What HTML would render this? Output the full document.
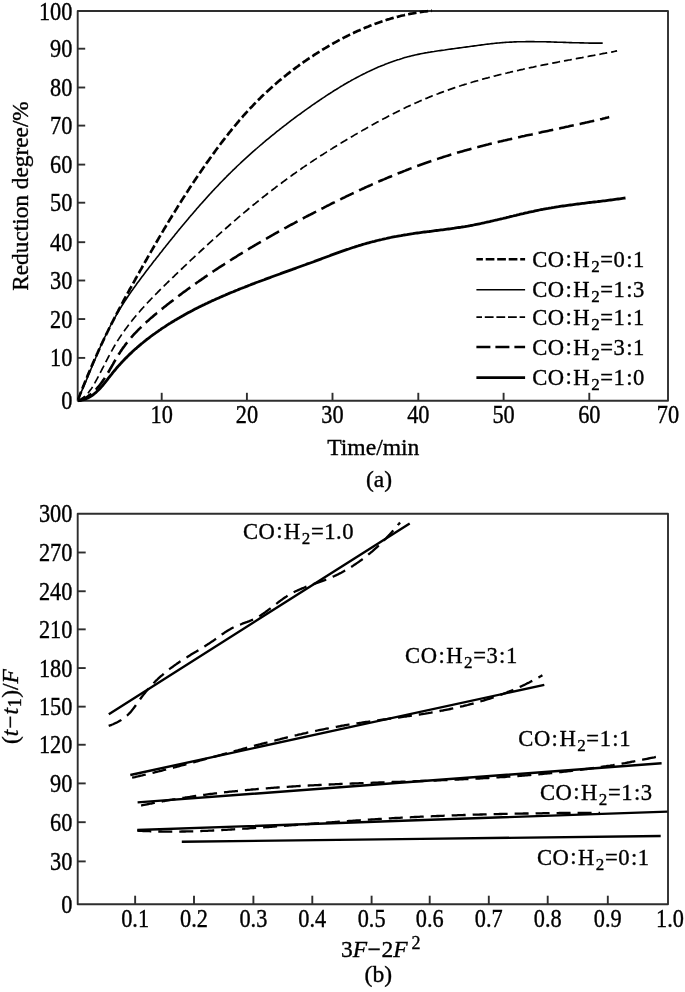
<!DOCTYPE html>
<html><head><meta charset="utf-8"><style>
html,body{margin:0;padding:0;background:#fff;}
svg{display:block;}
text{font-family:'Liberation Serif','Times New Roman',serif;fill:#000;stroke:#000;stroke-width:0.35px;}
.ax{fill:none;stroke:#2e2e2e;stroke-width:1.9;stroke-linejoin:round;}
.c{fill:none;stroke:#000;stroke-linecap:butt;stroke-linejoin:round;}
</style></head><body>
<svg width="685" height="992" viewBox="0 0 685 992">
<rect width="685" height="992" fill="#fff"/>
<path d="M77.7,11H668V400.8H77.7Z" class="ax"/>
<path d="M77.7,48.7h7.5" class="ax"/>
<path d="M77.7,87.5h7.5" class="ax"/>
<path d="M77.7,125.6h7.5" class="ax"/>
<path d="M77.7,164.6h7.5" class="ax"/>
<path d="M77.7,202.7h7.5" class="ax"/>
<path d="M77.7,242.2h7.5" class="ax"/>
<path d="M77.7,280.5h7.5" class="ax"/>
<path d="M77.7,319.05h7.5" class="ax"/>
<path d="M77.7,357.9h7.5" class="ax"/>
<path d="M161.7,400.8v-8" class="ax"/>
<path d="M246.9,400.8v-8" class="ax"/>
<path d="M332.5,400.8v-8" class="ax"/>
<path d="M418.3,400.8v-8" class="ax"/>
<path d="M503.6,400.8v-8" class="ax"/>
<path d="M589.3,400.8v-8" class="ax"/>
<text transform="translate(72.4,57.2) scale(0.95,1.08)" font-size="23.5" text-anchor="end">90</text>
<text transform="translate(72.4,96.0) scale(0.95,1.08)" font-size="23.5" text-anchor="end">80</text>
<text transform="translate(72.4,134.1) scale(0.95,1.08)" font-size="23.5" text-anchor="end">70</text>
<text transform="translate(72.4,173.1) scale(0.95,1.08)" font-size="23.5" text-anchor="end">60</text>
<text transform="translate(72.4,211.2) scale(0.95,1.08)" font-size="23.5" text-anchor="end">50</text>
<text transform="translate(72.4,250.7) scale(0.95,1.08)" font-size="23.5" text-anchor="end">40</text>
<text transform="translate(72.4,289.0) scale(0.95,1.08)" font-size="23.5" text-anchor="end">30</text>
<text transform="translate(72.4,327.6) scale(0.95,1.08)" font-size="23.5" text-anchor="end">20</text>
<text transform="translate(72.4,366.4) scale(0.95,1.08)" font-size="23.5" text-anchor="end">10</text>
<text transform="translate(72.4,19.5) scale(0.95,1.08)" font-size="23.5" text-anchor="end">100</text>
<text transform="translate(72.4,409.3) scale(0.95,1.08)" font-size="23.5" text-anchor="end">0</text>
<text transform="translate(161.7,423.3) scale(0.95,1.08)" font-size="23.5" text-anchor="middle">10</text>
<text transform="translate(246.9,423.3) scale(0.95,1.08)" font-size="23.5" text-anchor="middle">20</text>
<text transform="translate(332.5,423.3) scale(0.95,1.08)" font-size="23.5" text-anchor="middle">30</text>
<text transform="translate(418.3,423.3) scale(0.95,1.08)" font-size="23.5" text-anchor="middle">40</text>
<text transform="translate(503.6,423.3) scale(0.95,1.08)" font-size="23.5" text-anchor="middle">50</text>
<text transform="translate(589.3,423.3) scale(0.95,1.08)" font-size="23.5" text-anchor="middle">60</text>
<text transform="translate(668,423.3) scale(0.95,1.08)" font-size="23.5" text-anchor="middle">70</text>
<text x="373.3" y="454.7" font-size="23.6" text-anchor="middle" >Time/min</text>
<text x="379" y="486.8" font-size="23.6" text-anchor="middle" >(a)</text>
<text transform="translate(27.7,196) rotate(-90)" font-size="23.3" text-anchor="middle">Reduction degree/%</text>
<path d="M78.0,400.7 L79.5,400.5 L81.0,400.3 L82.5,400.0 L83.9,399.6 L85.3,399.1 L86.6,398.6 L87.9,398.0 L89.2,397.3 L90.4,396.6 L91.6,395.8 L92.7,395.0 L93.9,394.1 L95.0,393.2 L96.1,392.3 L97.1,391.3 L98.2,390.3 L99.2,389.3 L100.2,388.2 L101.2,387.1 L102.2,386.0 L103.2,384.8 L104.1,383.7 L105.1,382.5 L106.0,381.3 L107.0,380.1 L107.9,378.9 L108.8,377.7 L109.8,376.5 L110.7,375.3 L111.7,374.1 L112.6,372.9 L113.6,371.7 L114.6,370.5 L115.6,369.3 L116.5,368.2 L117.5,367.0 L118.5,365.9 L119.6,364.7 L120.6,363.6 L121.6,362.5 L122.6,361.4 L123.7,360.3 L124.7,359.2 L125.8,358.1 L126.9,357.1 L127.9,356.0 L129.0,354.9 L130.1,353.9 L131.2,352.9 L132.3,351.8 L133.4,350.8 L134.5,349.8 L135.6,348.8 L136.8,347.8 L137.9,346.8 L139.0,345.9 L140.2,344.9 L141.3,343.9 L142.5,343.0 L143.7,342.0 L144.8,341.1 L146.0,340.2 L147.2,339.2 L148.4,338.3 L149.6,337.4 L150.7,336.5 L151.9,335.6 L153.2,334.7 L154.4,333.9 L155.6,333.0 L156.8,332.1 L158.0,331.3 L159.2,330.4 L160.5,329.6 L161.7,328.7 L162.9,327.9 L164.2,327.1 L165.4,326.3 L166.7,325.4 L167.9,324.6 L169.2,323.8 L170.4,323.1 L171.7,322.3 L173.0,321.5 L174.3,320.7 L175.5,319.9 L176.8,319.2 L178.1,318.4 L179.4,317.7 L180.7,316.9 L182.0,316.2 L183.3,315.5 L184.6,314.7 L185.9,314.0 L187.2,313.3 L188.5,312.6 L189.8,311.9 L191.1,311.2 L192.5,310.5 L193.8,309.8 L195.1,309.1 L196.4,308.4 L197.8,307.8 L199.1,307.1 L200.4,306.4 L201.8,305.8 L203.1,305.1 L204.5,304.5 L205.8,303.8 L207.2,303.2 L208.5,302.5 L209.9,301.9 L211.2,301.3 L212.6,300.6 L214.0,300.0 L215.3,299.4 L216.7,298.8 L218.1,298.2 L219.5,297.6 L220.8,297.0 L222.2,296.4 L223.6,295.8 L225.0,295.2 L226.3,294.6 L227.7,294.0 L229.1,293.4 L230.5,292.8 L231.9,292.2 L233.3,291.7 L234.7,291.1 L236.1,290.5 L237.5,290.0 L238.9,289.4 L240.3,288.8 L241.7,288.3 L243.1,287.7 L244.5,287.2 L245.9,286.6 L247.3,286.1 L248.7,285.5 L250.1,285.0 L251.5,284.4 L252.9,283.9 L254.3,283.4 L255.7,282.8 L257.1,282.3 L258.5,281.8 L260.0,281.2 L261.4,280.7 L262.8,280.2 L264.2,279.7 L265.6,279.1 L267.0,278.6 L268.4,278.1 L269.9,277.6 L271.3,277.0 L272.7,276.5 L274.1,276.0 L275.5,275.5 L276.9,275.0 L278.4,274.5 L279.8,274.0 L281.2,273.4 L282.6,272.9 L284.0,272.4 L285.4,271.9 L286.9,271.4 L288.3,270.9 L289.7,270.4 L291.1,269.9 L292.5,269.4 L293.9,268.8 L295.4,268.3 L296.8,267.8 L298.2,267.3 L299.6,266.8 L301.0,266.3 L302.4,265.8 L303.8,265.3 L305.2,264.8 L306.6,264.2 L308.1,263.7 L309.5,263.2 L310.9,262.7 L312.3,262.2 L313.7,261.7 L315.1,261.1 L316.5,260.6 L317.9,260.1 L319.3,259.6 L320.7,259.1 L322.1,258.5 L323.5,258.0 L324.9,257.5 L326.3,257.0 L327.7,256.5 L329.1,256.0 L330.4,255.4 L331.8,254.9 L333.2,254.4 L334.6,253.9 L336.0,253.4 L337.4,252.9 L338.8,252.4 L340.2,251.9 L341.6,251.4 L343.0,250.9 L344.5,250.4 L345.9,249.9 L347.3,249.4 L348.7,249.0 L350.1,248.5 L351.5,248.0 L352.9,247.5 L354.3,247.1 L355.8,246.6 L357.2,246.2 L358.6,245.7 L360.0,245.3 L361.5,244.9 L362.9,244.4 L364.4,244.0 L365.8,243.6 L367.2,243.2 L368.7,242.8 L370.1,242.4 L371.6,242.0 L373.0,241.6 L374.5,241.3 L375.9,240.9 L377.4,240.5 L378.9,240.2 L380.3,239.8 L381.8,239.5 L383.3,239.1 L384.7,238.8 L386.2,238.5 L387.7,238.1 L389.1,237.8 L390.6,237.5 L392.1,237.2 L393.6,236.9 L395.0,236.6 L396.5,236.4 L398.0,236.1 L399.5,235.8 L401.0,235.6 L402.4,235.3 L403.9,235.0 L405.4,234.8 L406.9,234.6 L408.4,234.3 L409.9,234.1 L411.4,233.9 L412.8,233.7 L414.3,233.4 L415.8,233.2 L417.3,233.0 L418.8,232.8 L420.3,232.6 L421.8,232.4 L423.2,232.2 L424.7,232.0 L426.2,231.8 L427.7,231.6 L429.2,231.5 L430.7,231.3 L432.2,231.1 L433.7,230.9 L435.1,230.7 L436.6,230.5 L438.1,230.3 L439.6,230.1 L441.1,229.9 L442.6,229.8 L444.1,229.6 L445.5,229.4 L447.0,229.2 L448.5,229.0 L450.0,228.8 L451.5,228.6 L453.0,228.4 L454.4,228.2 L455.9,227.9 L457.4,227.7 L458.9,227.5 L460.4,227.3 L461.8,227.0 L463.3,226.8 L464.8,226.6 L466.3,226.3 L467.7,226.1 L469.2,225.8 L470.7,225.5 L472.2,225.3 L473.6,225.0 L475.1,224.7 L476.6,224.4 L478.0,224.1 L479.5,223.8 L481.0,223.5 L482.4,223.2 L483.9,222.9 L485.3,222.5 L486.8,222.2 L488.3,221.9 L489.7,221.6 L491.2,221.2 L492.6,220.9 L494.1,220.5 L495.6,220.2 L497.0,219.9 L498.5,219.5 L499.9,219.2 L501.4,218.8 L502.8,218.5 L504.3,218.1 L505.8,217.8 L507.2,217.4 L508.7,217.1 L510.1,216.7 L511.6,216.3 L513.0,216.0 L514.5,215.6 L516.0,215.3 L517.4,214.9 L518.9,214.6 L520.3,214.2 L521.8,213.9 L523.3,213.6 L524.7,213.2 L526.2,212.9 L527.6,212.6 L529.1,212.2 L530.6,211.9 L532.0,211.6 L533.5,211.3 L535.0,210.9 L536.4,210.6 L537.9,210.3 L539.4,210.0 L540.8,209.7 L542.3,209.5 L543.8,209.2 L545.3,208.9 L546.7,208.6 L548.2,208.4 L549.7,208.1 L551.2,207.9 L552.6,207.6 L554.1,207.4 L555.6,207.1 L557.1,206.9 L558.6,206.7 L560.0,206.4 L561.5,206.2 L563.0,206.0 L564.5,205.8 L566.0,205.6 L567.5,205.4 L569.0,205.2 L570.4,205.0 L571.9,204.8 L573.4,204.6 L574.9,204.4 L576.4,204.2 L577.9,204.0 L579.4,203.8 L580.9,203.6 L582.4,203.4 L583.8,203.3 L585.3,203.1 L586.8,202.9 L588.3,202.7 L589.8,202.5 L591.3,202.4 L592.8,202.2 L594.3,202.0 L595.8,201.8 L597.3,201.7 L598.8,201.5 L600.2,201.3 L601.7,201.1 L603.2,200.9 L604.7,200.8 L606.2,200.6 L607.7,200.4 L609.2,200.2 L610.7,200.0 L612.1,199.8 L613.6,199.6 L615.1,199.4 L616.6,199.2 L618.1,199.0 L619.6,198.8 L621.1,198.6 L622.5,198.4 L624.0,198.2 L625.5,198.0" class="c" stroke-width="2.8"/>
<path d="M78.3,401.0 L79.7,400.5 L81.1,399.9 L82.5,399.3 L83.8,398.7 L85.1,398.0 L86.3,397.3 L87.6,396.5 L88.7,395.7 L89.9,394.9 L91.0,394.0 L92.1,393.1 L93.2,392.1 L94.2,391.2 L95.3,390.2 L96.3,389.1 L97.2,388.0 L98.2,387.0 L99.1,385.8 L100.0,384.7 L100.9,383.5 L101.8,382.4 L102.6,381.1 L103.5,379.9 L104.3,378.7 L105.1,377.4 L105.9,376.2 L106.7,374.9 L107.5,373.6 L108.3,372.3 L109.1,371.0 L109.8,369.6 L110.6,368.3 L111.4,367.0 L112.1,365.7 L112.9,364.3 L113.6,363.0 L114.4,361.6 L115.2,360.3 L116.0,359.0 L116.7,357.7 L117.5,356.3 L118.3,355.0 L119.1,353.7 L120.0,352.4 L120.8,351.1 L121.7,349.9 L122.5,348.6 L123.4,347.4 L124.3,346.2 L125.2,344.9 L126.1,343.7 L127.0,342.6 L128.0,341.4 L128.9,340.2 L129.9,339.1 L130.9,337.9 L131.8,336.8 L132.8,335.7 L133.8,334.5 L134.9,333.4 L135.9,332.4 L136.9,331.3 L138.0,330.2 L139.0,329.1 L140.1,328.1 L141.2,327.0 L142.2,326.0 L143.3,325.0 L144.4,323.9 L145.5,322.9 L146.6,321.9 L147.7,320.9 L148.9,319.9 L150.0,318.9 L151.1,317.9 L152.3,317.0 L153.4,316.0 L154.5,315.0 L155.7,314.1 L156.8,313.1 L158.0,312.2 L159.2,311.2 L160.3,310.3 L161.5,309.3 L162.7,308.4 L163.8,307.4 L165.0,306.5 L166.2,305.6 L167.4,304.6 L168.5,303.7 L169.7,302.8 L170.9,301.9 L172.1,301.0 L173.3,300.1 L174.5,299.1 L175.7,298.2 L176.8,297.3 L178.0,296.4 L179.2,295.5 L180.4,294.6 L181.6,293.7 L182.8,292.8 L184.0,291.9 L185.2,291.1 L186.4,290.2 L187.6,289.3 L188.9,288.4 L190.1,287.5 L191.3,286.7 L192.5,285.8 L193.7,284.9 L194.9,284.1 L196.1,283.2 L197.4,282.3 L198.6,281.5 L199.8,280.6 L201.0,279.8 L202.3,278.9 L203.5,278.1 L204.7,277.2 L206.0,276.4 L207.2,275.5 L208.4,274.7 L209.7,273.8 L210.9,273.0 L212.1,272.2 L213.4,271.3 L214.6,270.5 L215.9,269.7 L217.1,268.9 L218.4,268.0 L219.6,267.2 L220.9,266.4 L222.1,265.6 L223.4,264.8 L224.6,264.0 L225.9,263.2 L227.1,262.4 L228.4,261.6 L229.7,260.8 L230.9,260.0 L232.2,259.2 L233.4,258.4 L234.7,257.6 L236.0,256.8 L237.2,256.0 L238.5,255.2 L239.8,254.4 L241.1,253.6 L242.3,252.8 L243.6,252.1 L244.9,251.3 L246.2,250.5 L247.4,249.7 L248.7,249.0 L250.0,248.2 L251.3,247.4 L252.6,246.7 L253.9,245.9 L255.1,245.1 L256.4,244.4 L257.7,243.6 L259.0,242.9 L260.3,242.1 L261.6,241.4 L262.9,240.6 L264.2,239.9 L265.5,239.1 L266.8,238.4 L268.1,237.6 L269.4,236.9 L270.7,236.1 L272.0,235.4 L273.3,234.7 L274.6,233.9 L275.9,233.2 L277.2,232.5 L278.5,231.7 L279.8,231.0 L281.1,230.3 L282.4,229.5 L283.7,228.8 L285.0,228.1 L286.4,227.4 L287.7,226.7 L289.0,225.9 L290.3,225.2 L291.6,224.5 L292.9,223.8 L294.3,223.1 L295.6,222.4 L296.9,221.7 L298.2,221.0 L299.5,220.3 L300.9,219.5 L302.2,218.8 L303.5,218.1 L304.8,217.4 L306.2,216.7 L307.5,216.0 L308.8,215.3 L310.1,214.7 L311.5,214.0 L312.8,213.3 L314.1,212.6 L315.5,211.9 L316.8,211.2 L318.1,210.5 L319.5,209.8 L320.8,209.1 L322.1,208.5 L323.5,207.8 L324.8,207.1 L326.2,206.4 L327.5,205.7 L328.8,205.1 L330.2,204.4 L331.5,203.7 L332.9,203.0 L334.2,202.4 L335.5,201.7 L336.9,201.0 L338.2,200.4 L339.6,199.7 L340.9,199.1 L342.3,198.4 L343.6,197.8 L345.0,197.1 L346.3,196.4 L347.7,195.8 L349.0,195.1 L350.4,194.5 L351.7,193.9 L353.1,193.2 L354.5,192.6 L355.8,191.9 L357.2,191.3 L358.5,190.7 L359.9,190.0 L361.3,189.4 L362.6,188.8 L364.0,188.2 L365.3,187.5 L366.7,186.9 L368.1,186.3 L369.4,185.7 L370.8,185.1 L372.2,184.4 L373.6,183.8 L374.9,183.2 L376.3,182.6 L377.7,182.0 L379.0,181.4 L380.4,180.8 L381.8,180.2 L383.2,179.6 L384.5,179.1 L385.9,178.5 L387.3,177.9 L388.7,177.3 L390.1,176.7 L391.4,176.2 L392.8,175.6 L394.2,175.0 L395.6,174.4 L397.0,173.9 L398.4,173.3 L399.8,172.8 L401.2,172.2 L402.5,171.7 L403.9,171.1 L405.3,170.6 L406.7,170.0 L408.1,169.5 L409.5,168.9 L410.9,168.4 L412.3,167.9 L413.7,167.3 L415.1,166.8 L416.5,166.3 L417.9,165.8 L419.3,165.3 L420.7,164.7 L422.1,164.2 L423.5,163.7 L424.9,163.2 L426.3,162.7 L427.8,162.2 L429.2,161.7 L430.6,161.3 L432.0,160.8 L433.4,160.3 L434.8,159.8 L436.2,159.3 L437.7,158.9 L439.1,158.4 L440.5,157.9 L441.9,157.5 L443.3,157.0 L444.8,156.6 L446.2,156.1 L447.6,155.7 L449.0,155.2 L450.5,154.8 L451.9,154.4 L453.3,153.9 L454.8,153.5 L456.2,153.1 L457.6,152.6 L459.1,152.2 L460.5,151.8 L461.9,151.4 L463.4,151.0 L464.8,150.6 L466.2,150.2 L467.7,149.8 L469.1,149.4 L470.6,149.0 L472.0,148.6 L473.5,148.2 L474.9,147.8 L476.3,147.4 L477.8,147.1 L479.2,146.7 L480.7,146.3 L482.1,145.9 L483.6,145.6 L485.0,145.2 L486.5,144.8 L487.9,144.5 L489.4,144.1 L490.8,143.7 L492.3,143.4 L493.7,143.0 L495.2,142.7 L496.7,142.3 L498.1,142.0 L499.6,141.6 L501.0,141.3 L502.5,140.9 L503.9,140.6 L505.4,140.3 L506.9,139.9 L508.3,139.6 L509.8,139.3 L511.2,138.9 L512.7,138.6 L514.2,138.3 L515.6,137.9 L517.1,137.6 L518.5,137.3 L520.0,136.9 L521.5,136.6 L522.9,136.3 L524.4,136.0 L525.9,135.6 L527.3,135.3 L528.8,135.0 L530.3,134.7 L531.7,134.4 L533.2,134.0 L534.6,133.7 L536.1,133.4 L537.6,133.1 L539.0,132.8 L540.5,132.5 L542.0,132.1 L543.4,131.8 L544.9,131.5 L546.4,131.2 L547.8,130.9 L549.3,130.6 L550.8,130.2 L552.2,129.9 L553.7,129.6 L555.2,129.3 L556.6,129.0 L558.1,128.7 L559.6,128.4 L561.0,128.0 L562.5,127.7 L564.0,127.4 L565.4,127.1 L566.9,126.8 L568.4,126.5 L569.8,126.1 L571.3,125.8 L572.7,125.5 L574.2,125.2 L575.7,124.9 L577.1,124.5 L578.6,124.2 L580.1,123.9 L581.5,123.6 L583.0,123.2 L584.4,122.9 L585.9,122.6 L587.4,122.3 L588.8,121.9 L590.3,121.6 L591.7,121.3 L593.2,120.9 L594.7,120.6 L596.1,120.3 L597.6,119.9 L599.0,119.6 L600.5,119.2 L601.9,118.9 L603.4,118.5 L604.8,118.2 L606.3,117.8 L607.8,117.5 L609.2,117.1" class="c" stroke-width="2.6" stroke-dasharray="15 6"/>
<path d="M78.2,400.2 L79.5,399.7 L80.9,399.0 L82.1,398.3 L83.3,397.5 L84.4,396.6 L85.5,395.7 L86.6,394.7 L87.6,393.6 L88.5,392.5 L89.4,391.3 L90.3,390.1 L91.2,388.9 L92.0,387.7 L92.8,386.4 L93.6,385.1 L94.3,383.8 L95.1,382.4 L95.8,381.1 L96.5,379.8 L97.3,378.4 L98.0,377.1 L98.7,375.8 L99.4,374.4 L100.1,373.1 L100.8,371.7 L101.5,370.4 L102.2,369.0 L102.9,367.7 L103.6,366.4 L104.3,365.0 L105.0,363.7 L105.6,362.3 L106.3,361.0 L107.0,359.6 L107.7,358.3 L108.4,357.0 L109.1,355.7 L109.8,354.3 L110.5,353.0 L111.2,351.7 L112.0,350.4 L112.7,349.1 L113.4,347.8 L114.2,346.5 L114.9,345.2 L115.7,343.9 L116.5,342.6 L117.2,341.4 L118.0,340.1 L118.8,338.9 L119.6,337.6 L120.5,336.4 L121.3,335.1 L122.1,333.9 L123.0,332.7 L123.8,331.5 L124.7,330.3 L125.6,329.1 L126.4,327.9 L127.3,326.7 L128.2,325.5 L129.1,324.3 L130.0,323.1 L130.9,322.0 L131.9,320.8 L132.8,319.6 L133.7,318.5 L134.7,317.3 L135.6,316.2 L136.6,315.1 L137.6,313.9 L138.5,312.8 L139.5,311.7 L140.5,310.5 L141.5,309.4 L142.5,308.3 L143.5,307.2 L144.5,306.1 L145.5,305.0 L146.5,303.9 L147.5,302.8 L148.5,301.7 L149.6,300.6 L150.6,299.5 L151.6,298.5 L152.7,297.4 L153.7,296.3 L154.7,295.2 L155.8,294.2 L156.9,293.1 L157.9,292.0 L159.0,291.0 L160.0,289.9 L161.1,288.8 L162.2,287.8 L163.2,286.7 L164.3,285.7 L165.4,284.6 L166.4,283.6 L167.5,282.5 L168.6,281.5 L169.7,280.4 L170.8,279.4 L171.8,278.3 L172.9,277.3 L174.0,276.3 L175.1,275.2 L176.2,274.2 L177.3,273.1 L178.3,272.1 L179.4,271.1 L180.5,270.0 L181.6,269.0 L182.7,268.0 L183.8,266.9 L184.9,265.9 L186.0,264.9 L187.0,263.8 L188.1,262.8 L189.2,261.8 L190.3,260.7 L191.4,259.7 L192.5,258.7 L193.6,257.7 L194.7,256.6 L195.8,255.6 L196.9,254.6 L198.0,253.6 L199.1,252.6 L200.2,251.5 L201.3,250.5 L202.4,249.5 L203.5,248.5 L204.6,247.5 L205.7,246.5 L206.8,245.5 L207.9,244.4 L209.0,243.4 L210.1,242.4 L211.2,241.4 L212.3,240.4 L213.4,239.4 L214.6,238.4 L215.7,237.4 L216.8,236.4 L217.9,235.4 L219.0,234.4 L220.1,233.4 L221.2,232.4 L222.4,231.4 L223.5,230.4 L224.6,229.5 L225.7,228.5 L226.8,227.5 L228.0,226.5 L229.1,225.5 L230.2,224.5 L231.4,223.5 L232.5,222.6 L233.6,221.6 L234.7,220.6 L235.9,219.6 L237.0,218.7 L238.1,217.7 L239.3,216.7 L240.4,215.8 L241.6,214.8 L242.7,213.8 L243.8,212.9 L245.0,211.9 L246.1,211.0 L247.3,210.0 L248.4,209.0 L249.6,208.1 L250.7,207.1 L251.9,206.2 L253.0,205.2 L254.2,204.3 L255.4,203.4 L256.5,202.4 L257.7,201.5 L258.8,200.5 L260.0,199.6 L261.2,198.7 L262.3,197.7 L263.5,196.8 L264.7,195.9 L265.9,195.0 L267.0,194.0 L268.2,193.1 L269.4,192.2 L270.6,191.3 L271.7,190.4 L272.9,189.5 L274.1,188.6 L275.3,187.7 L276.5,186.7 L277.7,185.8 L278.9,184.9 L280.1,184.0 L281.3,183.2 L282.5,182.3 L283.7,181.4 L284.9,180.5 L286.1,179.6 L287.3,178.7 L288.5,177.8 L289.7,176.9 L290.9,176.1 L292.1,175.2 L293.3,174.3 L294.6,173.5 L295.8,172.6 L297.0,171.7 L298.2,170.9 L299.4,170.0 L300.7,169.2 L301.9,168.3 L303.1,167.4 L304.4,166.6 L305.6,165.8 L306.9,164.9 L308.1,164.1 L309.3,163.2 L310.6,162.4 L311.8,161.6 L313.1,160.7 L314.3,159.9 L315.6,159.1 L316.8,158.3 L318.1,157.4 L319.4,156.6 L320.6,155.8 L321.9,155.0 L323.2,154.2 L324.4,153.4 L325.7,152.6 L327.0,151.8 L328.2,151.0 L329.5,150.2 L330.8,149.4 L332.1,148.6 L333.3,147.8 L334.6,147.0 L335.9,146.2 L337.2,145.4 L338.5,144.6 L339.7,143.9 L341.0,143.1 L342.3,142.3 L343.6,141.5 L344.9,140.8 L346.2,140.0 L347.5,139.2 L348.8,138.5 L350.0,137.7 L351.3,136.9 L352.6,136.2 L353.9,135.4 L355.2,134.6 L356.5,133.9 L357.8,133.1 L359.1,132.4 L360.4,131.6 L361.7,130.9 L363.0,130.1 L364.3,129.4 L365.6,128.7 L366.9,127.9 L368.2,127.2 L369.5,126.4 L370.8,125.7 L372.1,125.0 L373.4,124.3 L374.8,123.5 L376.1,122.8 L377.4,122.1 L378.7,121.4 L380.0,120.7 L381.3,120.0 L382.6,119.3 L384.0,118.6 L385.3,117.9 L386.6,117.2 L387.9,116.5 L389.2,115.8 L390.6,115.1 L391.9,114.4 L393.2,113.7 L394.6,113.1 L395.9,112.4 L397.2,111.7 L398.6,111.1 L399.9,110.4 L401.2,109.7 L402.6,109.1 L403.9,108.4 L405.2,107.8 L406.6,107.1 L407.9,106.5 L409.3,105.9 L410.6,105.2 L412.0,104.6 L413.3,104.0 L414.7,103.4 L416.1,102.8 L417.4,102.2 L418.8,101.6 L420.1,101.0 L421.5,100.4 L422.9,99.8 L424.3,99.2 L425.6,98.6 L427.0,98.1 L428.4,97.5 L429.8,96.9 L431.1,96.4 L432.5,95.8 L433.9,95.3 L435.3,94.7 L436.7,94.2 L438.1,93.7 L439.5,93.1 L440.9,92.6 L442.3,92.1 L443.7,91.6 L445.1,91.1 L446.5,90.6 L447.9,90.1 L449.3,89.6 L450.7,89.1 L452.1,88.6 L453.5,88.1 L454.9,87.6 L456.4,87.2 L457.8,86.7 L459.2,86.2 L460.6,85.8 L462.0,85.3 L463.5,84.9 L464.9,84.4 L466.3,84.0 L467.7,83.5 L469.2,83.1 L470.6,82.7 L472.0,82.2 L473.5,81.8 L474.9,81.4 L476.4,81.0 L477.8,80.6 L479.2,80.1 L480.7,79.7 L482.1,79.3 L483.6,78.9 L485.0,78.5 L486.5,78.1 L487.9,77.8 L489.4,77.4 L490.8,77.0 L492.3,76.6 L493.7,76.2 L495.2,75.9 L496.6,75.5 L498.1,75.1 L499.6,74.7 L501.0,74.4 L502.5,74.0 L503.9,73.7 L505.4,73.3 L506.9,73.0 L508.3,72.6 L509.8,72.3 L511.3,71.9 L512.7,71.6 L514.2,71.3 L515.7,70.9 L517.1,70.6 L518.6,70.3 L520.1,69.9 L521.5,69.6 L523.0,69.3 L524.5,68.9 L526.0,68.6 L527.4,68.3 L528.9,68.0 L530.4,67.7 L531.8,67.4 L533.3,67.1 L534.8,66.7 L536.3,66.4 L537.7,66.1 L539.2,65.8 L540.7,65.5 L542.2,65.2 L543.6,64.9 L545.1,64.6 L546.6,64.3 L548.1,64.0 L549.5,63.8 L551.0,63.5 L552.5,63.2 L554.0,62.9 L555.4,62.6 L556.9,62.3 L558.4,62.0 L559.9,61.7 L561.3,61.5 L562.8,61.2 L564.3,60.9 L565.8,60.6 L567.2,60.3 L568.7,60.0 L570.2,59.8 L571.7,59.5 L573.1,59.2 L574.6,58.9 L576.1,58.7 L577.6,58.4 L579.0,58.1 L580.5,57.8 L582.0,57.6 L583.4,57.3 L584.9,57.0 L586.4,56.7 L587.9,56.5 L589.3,56.2 L590.8,55.9 L592.3,55.6 L593.7,55.4 L595.2,55.1 L596.7,54.8 L598.1,54.5 L599.6,54.3 L601.0,54.0 L602.5,53.7 L604.0,53.4 L605.4,53.2 L606.9,52.9 L608.3,52.6 L609.8,52.3 L611.3,52.1 L612.7,51.8 L614.2,51.5 L615.6,51.2 L617.1,50.9" class="c" stroke-width="1.7" stroke-dasharray="8 4"/>
<path d="M77.9,399.5 L78.6,398.1 L79.2,396.7 L79.8,395.4 L80.4,394.0 L81.0,392.7 L81.6,391.3 L82.2,389.9 L82.8,388.5 L83.4,387.2 L84.0,385.8 L84.6,384.4 L85.2,383.0 L85.7,381.7 L86.3,380.3 L86.9,378.9 L87.5,377.5 L88.1,376.1 L88.6,374.7 L89.2,373.3 L89.8,372.0 L90.4,370.6 L90.9,369.2 L91.5,367.8 L92.1,366.4 L92.7,365.0 L93.2,363.6 L93.8,362.2 L94.4,360.9 L95.0,359.5 L95.6,358.1 L96.1,356.7 L96.7,355.3 L97.3,353.9 L97.9,352.6 L98.5,351.2 L99.1,349.8 L99.7,348.4 L100.3,347.0 L100.9,345.7 L101.5,344.3 L102.1,342.9 L102.8,341.6 L103.4,340.2 L104.0,338.9 L104.6,337.5 L105.3,336.1 L105.9,334.8 L106.6,333.4 L107.2,332.1 L107.9,330.8 L108.5,329.4 L109.2,328.1 L109.9,326.8 L110.6,325.4 L111.3,324.1 L112.0,322.8 L112.7,321.5 L113.4,320.2 L114.1,318.9 L114.8,317.6 L115.6,316.3 L116.3,315.0 L117.1,313.7 L117.8,312.4 L118.6,311.1 L119.4,309.8 L120.1,308.6 L120.9,307.3 L121.7,306.0 L122.5,304.8 L123.3,303.5 L124.1,302.3 L124.9,301.0 L125.8,299.8 L126.6,298.5 L127.4,297.3 L128.2,296.0 L129.1,294.8 L129.9,293.6 L130.8,292.3 L131.6,291.1 L132.5,289.9 L133.3,288.7 L134.2,287.4 L135.1,286.2 L136.0,285.0 L136.8,283.8 L137.7,282.6 L138.6,281.4 L139.5,280.2 L140.4,279.0 L141.3,277.8 L142.2,276.6 L143.1,275.4 L144.0,274.2 L144.9,273.0 L145.8,271.8 L146.7,270.6 L147.6,269.4 L148.5,268.2 L149.4,267.0 L150.4,265.8 L151.3,264.7 L152.2,263.5 L153.1,262.3 L154.0,261.1 L155.0,259.9 L155.9,258.7 L156.8,257.6 L157.7,256.4 L158.7,255.2 L159.6,254.0 L160.5,252.8 L161.5,251.7 L162.4,250.5 L163.3,249.3 L164.3,248.1 L165.2,247.0 L166.1,245.8 L167.1,244.6 L168.0,243.4 L168.9,242.3 L169.9,241.1 L170.8,239.9 L171.8,238.8 L172.7,237.6 L173.7,236.4 L174.6,235.3 L175.5,234.1 L176.5,232.9 L177.4,231.8 L178.4,230.6 L179.3,229.4 L180.3,228.3 L181.3,227.1 L182.2,226.0 L183.2,224.8 L184.1,223.7 L185.1,222.5 L186.0,221.4 L187.0,220.2 L188.0,219.1 L188.9,217.9 L189.9,216.8 L190.9,215.6 L191.9,214.5 L192.8,213.4 L193.8,212.2 L194.8,211.1 L195.8,210.0 L196.7,208.8 L197.7,207.7 L198.7,206.6 L199.7,205.4 L200.7,204.3 L201.7,203.2 L202.7,202.1 L203.7,201.0 L204.7,199.9 L205.7,198.7 L206.7,197.6 L207.7,196.5 L208.7,195.4 L209.7,194.3 L210.7,193.2 L211.7,192.1 L212.7,191.0 L213.8,189.9 L214.8,188.8 L215.8,187.7 L216.8,186.7 L217.9,185.6 L218.9,184.5 L219.9,183.4 L221.0,182.3 L222.0,181.3 L223.0,180.2 L224.1,179.1 L225.1,178.1 L226.2,177.0 L227.2,175.9 L228.3,174.9 L229.3,173.8 L230.4,172.8 L231.5,171.7 L232.5,170.7 L233.6,169.7 L234.7,168.6 L235.8,167.6 L236.8,166.5 L237.9,165.5 L239.0,164.5 L240.1,163.5 L241.2,162.4 L242.3,161.4 L243.4,160.4 L244.5,159.4 L245.6,158.4 L246.7,157.4 L247.8,156.4 L248.9,155.4 L250.0,154.4 L251.1,153.4 L252.2,152.4 L253.3,151.4 L254.5,150.4 L255.6,149.4 L256.7,148.5 L257.8,147.5 L259.0,146.5 L260.1,145.5 L261.2,144.6 L262.4,143.6 L263.5,142.6 L264.7,141.7 L265.8,140.7 L267.0,139.7 L268.1,138.8 L269.3,137.8 L270.4,136.9 L271.6,135.9 L272.7,135.0 L273.9,134.1 L275.1,133.1 L276.2,132.2 L277.4,131.2 L278.6,130.3 L279.7,129.4 L280.9,128.5 L282.1,127.5 L283.3,126.6 L284.5,125.7 L285.7,124.8 L286.8,123.9 L288.0,123.0 L289.2,122.0 L290.4,121.1 L291.6,120.2 L292.8,119.3 L294.0,118.4 L295.2,117.5 L296.4,116.6 L297.6,115.7 L298.8,114.9 L300.1,114.0 L301.3,113.1 L302.5,112.2 L303.7,111.3 L304.9,110.4 L306.1,109.6 L307.4,108.7 L308.6,107.8 L309.8,107.0 L311.0,106.1 L312.3,105.2 L313.5,104.4 L314.8,103.5 L316.0,102.7 L317.2,101.8 L318.5,101.0 L319.7,100.1 L321.0,99.3 L322.2,98.4 L323.5,97.6 L324.7,96.8 L326.0,95.9 L327.2,95.1 L328.5,94.3 L329.8,93.5 L331.0,92.7 L332.3,91.9 L333.6,91.0 L334.8,90.2 L336.1,89.5 L337.4,88.7 L338.7,87.9 L339.9,87.1 L341.2,86.3 L342.5,85.6 L343.8,84.8 L345.1,84.0 L346.4,83.3 L347.7,82.5 L349.0,81.8 L350.3,81.1 L351.6,80.3 L352.9,79.6 L354.2,78.9 L355.5,78.2 L356.8,77.5 L358.2,76.8 L359.5,76.1 L360.8,75.4 L362.1,74.7 L363.5,74.0 L364.8,73.4 L366.1,72.7 L367.5,72.1 L368.8,71.4 L370.2,70.8 L371.5,70.2 L372.9,69.6 L374.2,68.9 L375.6,68.3 L376.9,67.7 L378.3,67.1 L379.7,66.6 L381.0,66.0 L382.4,65.4 L383.8,64.9 L385.2,64.3 L386.6,63.8 L387.9,63.3 L389.3,62.7 L390.7,62.2 L392.1,61.7 L393.5,61.2 L394.9,60.7 L396.3,60.3 L397.7,59.8 L399.2,59.4 L400.6,58.9 L402.0,58.5 L403.4,58.0 L404.8,57.6 L406.3,57.2 L407.7,56.8 L409.2,56.4 L410.6,56.1 L412.0,55.7 L413.5,55.4 L414.9,55.0 L416.4,54.7 L417.9,54.4 L419.3,54.1 L420.8,53.8 L422.3,53.5 L423.7,53.2 L425.2,52.9 L426.7,52.7 L428.2,52.4 L429.7,52.2 L431.2,51.9 L432.7,51.7 L434.1,51.5 L435.6,51.2 L437.1,51.0 L438.6,50.8 L440.1,50.6 L441.6,50.4 L443.1,50.2 L444.6,50.0 L446.1,49.7 L447.6,49.5 L449.1,49.3 L450.6,49.1 L452.1,48.9 L453.6,48.7 L455.1,48.5 L456.6,48.3 L458.0,48.1 L459.5,47.9 L461.0,47.7 L462.5,47.5 L464.0,47.3 L465.5,47.1 L467.0,46.9 L468.5,46.7 L469.9,46.5 L471.4,46.3 L472.9,46.1 L474.4,45.9 L475.9,45.7 L477.3,45.5 L478.8,45.3 L480.3,45.1 L481.8,44.9 L483.3,44.7 L484.7,44.5 L486.2,44.3 L487.7,44.1 L489.2,44.0 L490.7,43.8 L492.1,43.6 L493.6,43.5 L495.1,43.3 L496.6,43.1 L498.0,43.0 L499.5,42.9 L501.0,42.7 L502.5,42.6 L504.0,42.5 L505.5,42.4 L506.9,42.3 L508.4,42.2 L509.9,42.1 L511.4,42.1 L512.9,42.0 L514.4,41.9 L515.9,41.9 L517.3,41.8 L518.8,41.8 L520.3,41.7 L521.8,41.7 L523.3,41.7 L524.8,41.7 L526.3,41.6 L527.8,41.6 L529.3,41.6 L530.8,41.6 L532.3,41.6 L533.8,41.6 L535.3,41.7 L536.7,41.7 L538.2,41.7 L539.7,41.7 L541.2,41.7 L542.7,41.8 L544.2,41.8 L545.7,41.8 L547.2,41.9 L548.7,41.9 L550.2,41.9 L551.7,42.0 L553.2,42.0 L554.7,42.1 L556.2,42.1 L557.7,42.2 L559.2,42.2 L560.7,42.3 L562.2,42.3 L563.7,42.4 L565.2,42.4 L566.7,42.5 L568.2,42.5 L569.7,42.6 L571.2,42.6 L572.7,42.7 L574.2,42.7 L575.7,42.7 L577.2,42.8 L578.7,42.8 L580.2,42.9 L581.7,42.9 L583.2,42.9 L584.7,43.0 L586.2,43.0 L587.7,43.0 L589.2,43.1 L590.7,43.1 L592.2,43.1 L593.7,43.1 L595.2,43.1 L596.7,43.1 L598.2,43.1 L599.7,43.1 L601.2,43.1 L602.7,43.1" class="c" stroke-width="1.6"/>
<path d="M78.1,399.6 L78.6,398.2 L79.2,396.8 L79.7,395.4 L80.2,394.0 L80.8,392.6 L81.3,391.2 L81.9,389.8 L82.5,388.4 L83.0,387.0 L83.6,385.6 L84.1,384.2 L84.7,382.8 L85.3,381.4 L85.8,380.0 L86.4,378.7 L87.0,377.3 L87.5,375.9 L88.1,374.5 L88.7,373.1 L89.3,371.7 L89.9,370.4 L90.5,369.0 L91.0,367.6 L91.6,366.2 L92.2,364.9 L92.8,363.5 L93.4,362.1 L94.0,360.8 L94.6,359.4 L95.2,358.0 L95.8,356.7 L96.5,355.3 L97.1,353.9 L97.7,352.6 L98.3,351.2 L98.9,349.9 L99.6,348.5 L100.2,347.1 L100.8,345.8 L101.4,344.4 L102.1,343.1 L102.7,341.7 L103.4,340.4 L104.0,339.0 L104.6,337.7 L105.3,336.3 L105.9,335.0 L106.6,333.7 L107.3,332.3 L107.9,331.0 L108.6,329.6 L109.2,328.3 L109.9,327.0 L110.6,325.6 L111.2,324.3 L111.9,323.0 L112.6,321.7 L113.3,320.3 L114.0,319.0 L114.6,317.7 L115.3,316.3 L116.0,315.0 L116.7,313.7 L117.4,312.4 L118.1,311.1 L118.8,309.7 L119.5,308.4 L120.2,307.1 L120.9,305.8 L121.6,304.5 L122.3,303.1 L123.0,301.8 L123.7,300.5 L124.4,299.2 L125.1,297.9 L125.8,296.6 L126.5,295.3 L127.3,294.0 L128.0,292.6 L128.7,291.3 L129.4,290.0 L130.1,288.7 L130.9,287.4 L131.6,286.1 L132.3,284.8 L133.0,283.5 L133.8,282.2 L134.5,280.9 L135.2,279.6 L135.9,278.2 L136.7,276.9 L137.4,275.6 L138.1,274.3 L138.9,273.0 L139.6,271.7 L140.3,270.4 L141.1,269.1 L141.8,267.8 L142.5,266.5 L143.3,265.2 L144.0,263.9 L144.7,262.6 L145.5,261.3 L146.2,260.0 L147.0,258.7 L147.7,257.4 L148.4,256.1 L149.2,254.8 L149.9,253.5 L150.7,252.2 L151.4,250.9 L152.2,249.6 L152.9,248.3 L153.7,247.0 L154.4,245.7 L155.2,244.4 L155.9,243.1 L156.7,241.8 L157.4,240.5 L158.2,239.2 L158.9,237.9 L159.7,236.6 L160.5,235.3 L161.2,234.0 L162.0,232.7 L162.8,231.4 L163.5,230.1 L164.3,228.8 L165.1,227.6 L165.8,226.3 L166.6,225.0 L167.4,223.7 L168.1,222.4 L168.9,221.1 L169.7,219.8 L170.5,218.6 L171.3,217.3 L172.0,216.0 L172.8,214.7 L173.6,213.4 L174.4,212.2 L175.2,210.9 L176.0,209.6 L176.8,208.3 L177.5,207.1 L178.3,205.8 L179.1,204.5 L179.9,203.2 L180.7,202.0 L181.5,200.7 L182.3,199.4 L183.1,198.2 L183.9,196.9 L184.8,195.7 L185.6,194.4 L186.4,193.1 L187.2,191.9 L188.0,190.6 L188.8,189.4 L189.6,188.1 L190.5,186.8 L191.3,185.6 L192.1,184.3 L192.9,183.1 L193.8,181.9 L194.6,180.6 L195.4,179.4 L196.3,178.1 L197.1,176.9 L197.9,175.6 L198.8,174.4 L199.6,173.2 L200.5,171.9 L201.3,170.7 L202.2,169.5 L203.0,168.2 L203.9,167.0 L204.7,165.8 L205.6,164.5 L206.4,163.3 L207.3,162.1 L208.2,160.9 L209.0,159.7 L209.9,158.4 L210.8,157.2 L211.6,156.0 L212.5,154.8 L213.4,153.6 L214.3,152.4 L215.1,151.2 L216.0,150.0 L216.9,148.8 L217.8,147.6 L218.7,146.4 L219.6,145.2 L220.5,144.0 L221.4,142.8 L222.3,141.6 L223.2,140.4 L224.1,139.3 L225.0,138.1 L225.9,136.9 L226.9,135.7 L227.8,134.6 L228.7,133.4 L229.6,132.2 L230.6,131.1 L231.5,129.9 L232.5,128.7 L233.4,127.6 L234.3,126.4 L235.3,125.3 L236.3,124.2 L237.2,123.0 L238.2,121.9 L239.1,120.7 L240.1,119.6 L241.1,118.5 L242.1,117.4 L243.0,116.2 L244.0,115.1 L245.0,114.0 L246.0,112.9 L247.0,111.8 L248.0,110.7 L249.0,109.6 L250.0,108.5 L251.0,107.4 L252.1,106.4 L253.1,105.3 L254.1,104.2 L255.2,103.1 L256.2,102.1 L257.2,101.0 L258.3,100.0 L259.3,98.9 L260.4,97.9 L261.5,96.8 L262.5,95.8 L263.6,94.8 L264.7,93.7 L265.8,92.7 L266.9,91.7 L268.0,90.7 L269.1,89.7 L270.2,88.7 L271.3,87.7 L272.4,86.7 L273.5,85.7 L274.6,84.7 L275.8,83.7 L276.9,82.8 L278.0,81.8 L279.2,80.8 L280.3,79.9 L281.5,78.9 L282.6,78.0 L283.8,77.0 L285.0,76.1 L286.1,75.2 L287.3,74.2 L288.5,73.3 L289.7,72.4 L290.9,71.5 L292.0,70.6 L293.2,69.7 L294.4,68.8 L295.6,67.9 L296.8,67.0 L298.1,66.1 L299.3,65.2 L300.5,64.3 L301.7,63.5 L302.9,62.6 L304.2,61.7 L305.4,60.9 L306.6,60.0 L307.9,59.2 L309.1,58.3 L310.4,57.5 L311.6,56.7 L312.9,55.9 L314.1,55.0 L315.4,54.2 L316.7,53.4 L317.9,52.6 L319.2,51.8 L320.5,51.0 L321.8,50.2 L323.0,49.4 L324.3,48.6 L325.6,47.9 L326.9,47.1 L328.2,46.3 L329.5,45.6 L330.8,44.8 L332.1,44.1 L333.4,43.3 L334.7,42.6 L336.0,41.9 L337.4,41.1 L338.7,40.4 L340.0,39.7 L341.3,39.0 L342.7,38.3 L344.0,37.6 L345.3,36.9 L346.7,36.3 L348.0,35.6 L349.4,34.9 L350.7,34.3 L352.1,33.6 L353.4,33.0 L354.8,32.3 L356.1,31.7 L357.5,31.1 L358.9,30.5 L360.2,29.9 L361.6,29.3 L363.0,28.7 L364.4,28.1 L365.7,27.5 L367.1,26.9 L368.5,26.4 L369.9,25.8 L371.3,25.3 L372.7,24.7 L374.1,24.2 L375.5,23.7 L376.9,23.2 L378.3,22.7 L379.7,22.2 L381.1,21.7 L382.5,21.2 L383.9,20.8 L385.3,20.3 L386.8,19.8 L388.2,19.4 L389.6,19.0 L391.0,18.5 L392.5,18.1 L393.9,17.7 L395.3,17.3 L396.8,16.9 L398.2,16.6 L399.7,16.2 L401.1,15.8 L402.6,15.5 L404.0,15.2 L405.5,14.8 L406.9,14.5 L408.4,14.2 L409.8,13.9 L411.3,13.6 L412.7,13.4 L414.2,13.1 L415.7,12.8 L417.2,12.6 L418.6,12.4 L420.1,12.1 L421.6,11.9 L423.1,11.7 L424.5,11.5 L426.0,11.3 L427.5,11.2 L429.0,11.0 L430.5,10.9 L432.0,10.7" class="c" stroke-width="2.7" stroke-dasharray="8.5 3.2"/>
<path d="M476.4,259.3H525.1" class="c" stroke-width="2.5" stroke-dasharray="8.7 2.8" stroke-dashoffset="2.2"/>
<text x="532.2" y="266.9" font-size="22.6">C<tspan dx="0.55">O</tspan><tspan dx="1.35" dy="-0.8">:</tspan><tspan dx="1.55" dy="0.8">H</tspan><tspan font-size="17" dy="5.0" dx="1.5">2</tspan><tspan dy="-5.0" dx="0.6">=</tspan><tspan dx="0.55">0</tspan><tspan dx="1.35">:</tspan><tspan dx="0.55">1</tspan></text>
<path d="M476.4,289.7H525.1" class="c" stroke-width="1.6"/>
<text x="532.2" y="297.3" font-size="22.6">C<tspan dx="0.55">O</tspan><tspan dx="1.35" dy="-0.8">:</tspan><tspan dx="1.55" dy="0.8">H</tspan><tspan font-size="17" dy="5.0" dx="1.5">2</tspan><tspan dy="-5.0" dx="0.6">=</tspan><tspan dx="0.55">1</tspan><tspan dx="1.35">:</tspan><tspan dx="0.55">3</tspan></text>
<path d="M476.4,317.2H525.1" class="c" stroke-width="1.8" stroke-dasharray="8.8 2.8" stroke-dashoffset="3.2"/>
<text x="532.2" y="324.8" font-size="22.6">C<tspan dx="0.55">O</tspan><tspan dx="1.35" dy="-0.8">:</tspan><tspan dx="1.55" dy="0.8">H</tspan><tspan font-size="17" dy="5.0" dx="1.5">2</tspan><tspan dy="-5.0" dx="0.6">=</tspan><tspan dx="0.55">1</tspan><tspan dx="1.35">:</tspan><tspan dx="0.55">1</tspan></text>
<path d="M476.4,346.9H525.1" class="c" stroke-width="2.5" stroke-dasharray="14 5"/>
<text x="532.2" y="354.5" font-size="22.6">C<tspan dx="0.55">O</tspan><tspan dx="1.35" dy="-0.8">:</tspan><tspan dx="1.55" dy="0.8">H</tspan><tspan font-size="17" dy="5.0" dx="1.5">2</tspan><tspan dy="-5.0" dx="0.6">=</tspan><tspan dx="0.55">3</tspan><tspan dx="1.35">:</tspan><tspan dx="0.55">1</tspan></text>
<path d="M476.4,377.6H525.1" class="c" stroke-width="2.9"/>
<text x="532.2" y="385.2" font-size="22.6">C<tspan dx="0.55">O</tspan><tspan dx="1.35" dy="-0.8">:</tspan><tspan dx="1.55" dy="0.8">H</tspan><tspan font-size="17" dy="5.0" dx="1.5">2</tspan><tspan dy="-5.0" dx="0.6">=</tspan><tspan dx="0.55">1</tspan><tspan dx="1.35">:</tspan><tspan dx="0.55">0</tspan></text>
<path d="M77.7,513.75H668V904.3H77.7Z" class="ax"/>
<path d="M77.7,552.5h8" class="ax"/>
<path d="M77.7,591.25h8" class="ax"/>
<path d="M77.7,629.35h8" class="ax"/>
<path d="M77.7,668.06h8" class="ax"/>
<path d="M77.7,706.65h8" class="ax"/>
<path d="M77.7,744.75h8" class="ax"/>
<path d="M77.7,783.4h8" class="ax"/>
<path d="M77.7,822.2h8" class="ax"/>
<path d="M77.7,861.4h8" class="ax"/>
<path d="M135.15,904.3v-8.6" class="ax"/>
<path d="M194,904.3v-8.6" class="ax"/>
<path d="M253.4,904.3v-8.6" class="ax"/>
<path d="M312.3,904.3v-8.6" class="ax"/>
<path d="M371.6,904.3v-8.6" class="ax"/>
<path d="M429.7,904.3v-8.6" class="ax"/>
<path d="M488.8,904.3v-8.6" class="ax"/>
<path d="M547.7,904.3v-8.6" class="ax"/>
<path d="M607.8,904.3v-8.6" class="ax"/>
<text transform="translate(72.4,561.0) scale(0.95,1.08)" font-size="23.5" text-anchor="end">270</text>
<text transform="translate(72.4,599.8) scale(0.95,1.08)" font-size="23.5" text-anchor="end">240</text>
<text transform="translate(72.4,637.9) scale(0.95,1.08)" font-size="23.5" text-anchor="end">210</text>
<text transform="translate(72.4,676.6) scale(0.95,1.08)" font-size="23.5" text-anchor="end">180</text>
<text transform="translate(72.4,715.2) scale(0.95,1.08)" font-size="23.5" text-anchor="end">150</text>
<text transform="translate(72.4,753.3) scale(0.95,1.08)" font-size="23.5" text-anchor="end">120</text>
<text transform="translate(72.4,791.9) scale(0.95,1.08)" font-size="23.5" text-anchor="end">90</text>
<text transform="translate(72.4,830.7) scale(0.95,1.08)" font-size="23.5" text-anchor="end">60</text>
<text transform="translate(72.4,869.9) scale(0.95,1.08)" font-size="23.5" text-anchor="end">30</text>
<text transform="translate(72.4,522.3) scale(0.95,1.08)" font-size="23.5" text-anchor="end">300</text>
<text transform="translate(72.4,912.8) scale(0.95,1.08)" font-size="23.5" text-anchor="end">0</text>
<text transform="translate(135.15,926.6) scale(0.95,1.08)" font-size="23.5" text-anchor="middle">0.1</text>
<text transform="translate(194,926.6) scale(0.95,1.08)" font-size="23.5" text-anchor="middle">0.2</text>
<text transform="translate(253.4,926.6) scale(0.95,1.08)" font-size="23.5" text-anchor="middle">0.3</text>
<text transform="translate(312.3,926.6) scale(0.95,1.08)" font-size="23.5" text-anchor="middle">0.4</text>
<text transform="translate(371.6,926.6) scale(0.95,1.08)" font-size="23.5" text-anchor="middle">0.5</text>
<text transform="translate(429.7,926.6) scale(0.95,1.08)" font-size="23.5" text-anchor="middle">0.6</text>
<text transform="translate(488.8,926.6) scale(0.95,1.08)" font-size="23.5" text-anchor="middle">0.7</text>
<text transform="translate(547.7,926.6) scale(0.95,1.08)" font-size="23.5" text-anchor="middle">0.8</text>
<text transform="translate(607.8,926.6) scale(0.95,1.08)" font-size="23.5" text-anchor="middle">0.9</text>
<text transform="translate(670,926.6) scale(0.95,1.08)" font-size="23.5" text-anchor="middle">1.0</text>
<text x="341" y="957.2" font-size="23.5">3<tspan font-style="italic">F</tspan><tspan dx="0.5">−</tspan><tspan dx="0.5">2</tspan><tspan font-style="italic">F</tspan><tspan font-size="18" dy="-7.8" dx="4">2</tspan></text>
<text x="378.3" y="982" font-size="23.6" text-anchor="middle" >(b)</text>
<text transform="translate(17.8,744) rotate(-90)" font-size="23.5">(<tspan font-style="italic">t</tspan><tspan dx="1">−</tspan><tspan dx="1" font-style="italic">t</tspan><tspan font-size="18" dy="3.5" dx="0.5">1</tspan><tspan dy="-3.5" dx="0.5">)/</tspan><tspan font-style="italic">F</tspan></text>
<path d="M108.8,714.2 C158.9,682.4 359.6,555.2 409.7,523.4" class="c" stroke-width="2.4"/>
<path d="M108.7,725.9 L110.2,725.3 L111.6,724.8 L113.1,724.2 L114.5,723.5 L115.9,722.9 L117.3,722.2 L118.6,721.5 L119.9,720.7 L121.2,720.0 L122.5,719.1 L123.7,718.3 L124.9,717.4 L126.0,716.5 L127.2,715.5 L128.2,714.5 L129.3,713.4 L130.3,712.4 L131.3,711.2 L132.2,710.1 L133.1,708.9 L134.0,707.7 L134.9,706.5 L135.8,705.3 L136.7,704.1 L137.6,702.9 L138.4,701.7 L139.3,700.4 L140.1,699.2 L141.0,698.0 L141.9,696.8 L142.8,695.6 L143.7,694.4 L144.7,693.3 L145.6,692.1 L146.5,691.0 L147.5,689.8 L148.5,688.7 L149.4,687.6 L150.4,686.5 L151.4,685.4 L152.4,684.4 L153.5,683.3 L154.5,682.3 L155.5,681.2 L156.6,680.2 L157.6,679.2 L158.7,678.2 L159.8,677.2 L160.9,676.2 L162.0,675.3 L163.1,674.3 L164.2,673.3 L165.4,672.4 L166.5,671.5 L167.7,670.5 L168.8,669.6 L170.0,668.7 L171.2,667.8 L172.4,667.0 L173.6,666.1 L174.8,665.2 L176.0,664.4 L177.2,663.5 L178.4,662.7 L179.7,661.8 L180.9,661.0 L182.2,660.2 L183.4,659.4 L184.7,658.6 L186.0,657.8 L187.3,657.0 L188.5,656.2 L189.8,655.4 L191.1,654.6 L192.4,653.8 L193.7,653.0 L195.0,652.2 L196.3,651.5 L197.6,650.7 L198.9,649.9 L200.2,649.1 L201.4,648.3 L202.7,647.5 L204.0,646.7 L205.3,645.9 L206.6,645.1 L207.8,644.3 L209.1,643.5 L210.4,642.6 L211.6,641.8 L212.9,641.0 L214.1,640.1 L215.3,639.3 L216.5,638.4 L217.8,637.5 L219.0,636.6 L220.2,635.8 L221.4,634.9 L222.6,634.0 L223.8,633.2 L225.0,632.3 L226.3,631.5 L227.5,630.7 L228.8,629.9 L230.1,629.2 L231.3,628.5 L232.7,627.8 L234.0,627.1 L235.4,626.5 L236.7,625.9 L238.1,625.3 L239.5,624.8 L240.9,624.3 L242.3,623.7 L243.8,623.2 L245.2,622.7 L246.6,622.2 L248.0,621.6 L249.4,621.1 L250.8,620.5 L252.2,619.9 L253.5,619.3 L254.9,618.6 L256.2,617.9 L257.5,617.2 L258.8,616.5 L260.1,615.7 L261.3,614.9 L262.6,614.1 L263.8,613.2 L265.0,612.4 L266.2,611.5 L267.4,610.6 L268.6,609.7 L269.8,608.8 L271.0,607.9 L272.2,607.0 L273.4,606.1 L274.6,605.2 L275.7,604.3 L276.9,603.4 L278.1,602.4 L279.3,601.5 L280.5,600.6 L281.7,599.8 L282.9,598.9 L284.1,598.0 L285.3,597.2 L286.6,596.4 L287.8,595.6 L289.1,594.8 L290.3,594.1 L291.6,593.4 L292.9,592.7 L294.2,592.0 L295.6,591.3 L296.9,590.7 L298.2,590.1 L299.6,589.5 L301.0,588.9 L302.3,588.3 L303.7,587.8 L305.1,587.2 L306.5,586.7 L307.9,586.2 L309.3,585.7 L310.7,585.2 L312.1,584.6 L313.5,584.1 L314.9,583.6 L316.3,583.1 L317.8,582.6 L319.2,582.1 L320.6,581.6 L322.0,581.1 L323.4,580.6 L324.8,580.1 L326.2,579.5 L327.6,579.0 L329.0,578.4 L330.4,577.8 L331.7,577.2 L333.1,576.6 L334.5,576.0 L335.8,575.4 L337.2,574.7 L338.5,574.1 L339.8,573.4 L341.2,572.7 L342.5,572.0 L343.8,571.3 L345.1,570.5 L346.4,569.8 L347.7,569.0 L349.0,568.3 L350.2,567.5 L351.5,566.7 L352.8,565.9 L354.0,565.1 L355.3,564.3 L356.5,563.4 L357.7,562.6 L359.0,561.7 L360.2,560.8 L361.4,560.0 L362.6,559.1 L363.8,558.2 L365.0,557.2 L366.2,556.3 L367.3,555.4 L368.5,554.4 L369.7,553.5 L370.8,552.5 L372.0,551.6 L373.1,550.6 L374.2,549.6 L375.3,548.6 L376.5,547.6 L377.6,546.6 L378.7,545.5 L379.8,544.5 L380.8,543.5 L381.9,542.4 L383.0,541.4 L384.1,540.3 L385.1,539.3 L386.2,538.2 L387.2,537.1 L388.2,536.0 L389.3,534.9 L390.3,533.8 L391.3,532.7 L392.3,531.6 L393.3,530.5 L394.3,529.4 L395.2,528.2 L396.2,527.1 L397.2,526.0 L398.1,524.8 L399.1,523.7 L400.0,522.5" class="c" stroke-width="2.3" stroke-dasharray="14 7"/>
<path d="M130.3,775.0 C199.3,760.0 475.3,699.9 544.3,684.9" class="c" stroke-width="2.4"/>
<path d="M132.1,777.7 L133.6,777.4 L135.0,777.1 L136.5,776.7 L137.9,776.4 L139.4,776.0 L140.9,775.7 L142.3,775.4 L143.8,775.0 L145.2,774.7 L146.7,774.3 L148.1,774.0 L149.6,773.6 L151.0,773.3 L152.5,772.9 L153.9,772.6 L155.4,772.2 L156.8,771.9 L158.3,771.5 L159.7,771.1 L161.2,770.8 L162.6,770.4 L164.1,770.0 L165.5,769.7 L167.0,769.3 L168.4,768.9 L169.9,768.6 L171.3,768.2 L172.8,767.8 L174.2,767.4 L175.7,767.1 L177.1,766.7 L178.6,766.3 L180.0,765.9 L181.5,765.5 L182.9,765.1 L184.3,764.8 L185.8,764.4 L187.2,764.0 L188.7,763.6 L190.1,763.2 L191.6,762.8 L193.0,762.4 L194.5,762.1 L195.9,761.7 L197.3,761.3 L198.8,760.9 L200.2,760.5 L201.7,760.1 L203.1,759.7 L204.6,759.3 L206.0,758.9 L207.4,758.5 L208.9,758.1 L210.3,757.7 L211.8,757.3 L213.2,757.0 L214.7,756.6 L216.1,756.2 L217.5,755.8 L219.0,755.4 L220.4,755.0 L221.9,754.6 L223.3,754.2 L224.7,753.8 L226.2,753.4 L227.6,753.0 L229.1,752.6 L230.5,752.2 L232.0,751.8 L233.4,751.4 L234.8,751.0 L236.3,750.6 L237.7,750.3 L239.2,749.9 L240.6,749.5 L242.1,749.1 L243.5,748.7 L244.9,748.3 L246.4,747.9 L247.8,747.5 L249.3,747.1 L250.7,746.8 L252.2,746.4 L253.6,746.0 L255.0,745.6 L256.5,745.2 L257.9,744.8 L259.4,744.5 L260.8,744.1 L262.3,743.7 L263.7,743.3 L265.2,742.9 L266.6,742.6 L268.0,742.2 L269.5,741.8 L270.9,741.5 L272.4,741.1 L273.8,740.7 L275.3,740.4 L276.7,740.0 L278.2,739.6 L279.6,739.3 L281.1,738.9 L282.5,738.5 L284.0,738.2 L285.4,737.8 L286.9,737.5 L288.3,737.1 L289.8,736.8 L291.2,736.4 L292.7,736.1 L294.1,735.7 L295.6,735.4 L297.0,735.1 L298.5,734.7 L299.9,734.4 L301.4,734.1 L302.9,733.7 L304.3,733.4 L305.8,733.1 L307.2,732.7 L308.7,732.4 L310.1,732.1 L311.6,731.8 L313.0,731.5 L314.5,731.2 L316.0,730.8 L317.4,730.5 L318.9,730.2 L320.3,729.9 L321.8,729.6 L323.3,729.3 L324.7,729.0 L326.2,728.7 L327.7,728.5 L329.1,728.2 L330.6,727.9 L332.1,727.6 L333.5,727.3 L335.0,727.1 L336.5,726.8 L337.9,726.5 L339.4,726.3 L340.9,726.0 L342.3,725.7 L343.8,725.5 L345.3,725.2 L346.8,725.0 L348.2,724.7 L349.7,724.5 L351.2,724.3 L352.7,724.0 L354.1,723.8 L355.6,723.6 L357.1,723.3 L358.6,723.1 L360.0,722.9 L361.5,722.7 L363.0,722.4 L364.5,722.2 L366.0,722.0 L367.4,721.8 L368.9,721.6 L370.4,721.4 L371.9,721.2 L373.4,720.9 L374.8,720.7 L376.3,720.5 L377.8,720.3 L379.3,720.1 L380.8,719.9 L382.3,719.7 L383.7,719.5 L385.2,719.3 L386.7,719.1 L388.2,718.9 L389.7,718.7 L391.1,718.5 L392.6,718.3 L394.1,718.1 L395.6,717.9 L397.1,717.7 L398.6,717.5 L400.0,717.3 L401.5,717.1 L403.0,716.9 L404.5,716.7 L406.0,716.5 L407.5,716.2 L408.9,716.0 L410.4,715.8 L411.9,715.6 L413.4,715.4 L414.8,715.2 L416.3,714.9 L417.8,714.7 L419.3,714.5 L420.8,714.3 L422.2,714.0 L423.7,713.8 L425.2,713.6 L426.7,713.3 L428.1,713.1 L429.6,712.8 L431.1,712.6 L432.6,712.3 L434.0,712.1 L435.5,711.8 L437.0,711.6 L438.4,711.3 L439.9,711.0 L441.4,710.7 L442.8,710.5 L444.3,710.2 L445.8,709.9 L447.2,709.6 L448.7,709.3 L450.2,709.0 L451.6,708.7 L453.1,708.4 L454.5,708.1 L456.0,707.7 L457.4,707.4 L458.9,707.1 L460.4,706.7 L461.8,706.4 L463.3,706.1 L464.7,705.7 L466.2,705.3 L467.6,705.0 L469.0,704.6 L470.5,704.2 L471.9,703.8 L473.4,703.5 L474.8,703.1 L476.2,702.7 L477.7,702.3 L479.1,701.8 L480.5,701.4 L482.0,701.0 L483.4,700.6 L484.8,700.1 L486.3,699.7 L487.7,699.2 L489.1,698.8 L490.5,698.3 L491.9,697.9 L493.3,697.4 L494.8,696.9 L496.2,696.4 L497.6,695.9 L499.0,695.4 L500.4,694.9 L501.8,694.4 L503.2,693.9 L504.6,693.3 L506.0,692.8 L507.3,692.2 L508.7,691.7 L510.1,691.1 L511.5,690.6 L512.9,690.0 L514.2,689.4 L515.6,688.8 L517.0,688.2 L518.4,687.6 L519.7,687.0 L521.1,686.4 L522.4,685.7 L523.8,685.1 L525.1,684.5 L526.5,683.8 L527.8,683.1 L529.2,682.5 L530.5,681.8 L531.8,681.1 L533.2,680.4 L534.5,679.7 L535.8,679.0 L537.1,678.3 L538.5,677.6 L539.8,676.8 L541.1,676.1 L542.4,675.3" class="c" stroke-width="2.3" stroke-dasharray="14 7"/>
<path d="M137.6,802.4 C224.9,795.9 574.3,769.7 661.6,763.2" class="c" stroke-width="2.4"/>
<path d="M141.1,805.6 L142.6,805.2 L144.0,804.9 L145.5,804.6 L147.0,804.3 L148.5,804.0 L149.9,803.7 L151.4,803.5 L152.9,803.2 L154.3,802.9 L155.8,802.6 L157.3,802.3 L158.8,802.0 L160.2,801.8 L161.7,801.5 L163.2,801.2 L164.7,801.0 L166.1,800.7 L167.6,800.4 L169.1,800.2 L170.6,799.9 L172.0,799.7 L173.5,799.4 L175.0,799.2 L176.5,798.9 L178.0,798.7 L179.4,798.5 L180.9,798.2 L182.4,798.0 L183.9,797.8 L185.3,797.5 L186.8,797.3 L188.3,797.1 L189.8,796.9 L191.3,796.6 L192.7,796.4 L194.2,796.2 L195.7,796.0 L197.2,795.8 L198.7,795.6 L200.1,795.4 L201.6,795.2 L203.1,795.0 L204.6,794.8 L206.1,794.6 L207.6,794.4 L209.0,794.2 L210.5,794.0 L212.0,793.8 L213.5,793.6 L215.0,793.4 L216.5,793.3 L217.9,793.1 L219.4,792.9 L220.9,792.7 L222.4,792.6 L223.9,792.4 L225.4,792.2 L226.8,792.1 L228.3,791.9 L229.8,791.7 L231.3,791.6 L232.8,791.4 L234.3,791.3 L235.8,791.1 L237.2,791.0 L238.7,790.8 L240.2,790.7 L241.7,790.5 L243.2,790.4 L244.7,790.2 L246.2,790.1 L247.7,789.9 L249.1,789.8 L250.6,789.7 L252.1,789.5 L253.6,789.4 L255.1,789.3 L256.6,789.1 L258.1,789.0 L259.6,788.9 L261.1,788.8 L262.5,788.6 L264.0,788.5 L265.5,788.4 L267.0,788.3 L268.5,788.2 L270.0,788.1 L271.5,787.9 L273.0,787.8 L274.5,787.7 L276.0,787.6 L277.4,787.5 L278.9,787.4 L280.4,787.3 L281.9,787.2 L283.4,787.1 L284.9,787.0 L286.4,786.9 L287.9,786.8 L289.4,786.7 L290.9,786.6 L292.4,786.5 L293.9,786.4 L295.3,786.3 L296.8,786.2 L298.3,786.1 L299.8,786.0 L301.3,785.9 L302.8,785.9 L304.3,785.8 L305.8,785.7 L307.3,785.6 L308.8,785.5 L310.3,785.4 L311.8,785.4 L313.3,785.3 L314.8,785.2 L316.3,785.1 L317.7,785.1 L319.2,785.0 L320.7,784.9 L322.2,784.8 L323.7,784.8 L325.2,784.7 L326.7,784.6 L328.2,784.5 L329.7,784.5 L331.2,784.4 L332.7,784.3 L334.2,784.3 L335.7,784.2 L337.2,784.1 L338.7,784.1 L340.2,784.0 L341.7,783.9 L343.2,783.9 L344.7,783.8 L346.1,783.8 L347.6,783.7 L349.1,783.6 L350.6,783.6 L352.1,783.5 L353.6,783.5 L355.1,783.4 L356.6,783.3 L358.1,783.3 L359.6,783.2 L361.1,783.2 L362.6,783.1 L364.1,783.0 L365.6,783.0 L367.1,782.9 L368.6,782.9 L370.1,782.8 L371.6,782.8 L373.1,782.7 L374.6,782.7 L376.1,782.6 L377.6,782.6 L379.1,782.5 L380.6,782.4 L382.1,782.4 L383.5,782.3 L385.0,782.3 L386.5,782.2 L388.0,782.2 L389.5,782.1 L391.0,782.1 L392.5,782.0 L394.0,782.0 L395.5,781.9 L397.0,781.9 L398.5,781.8 L400.0,781.8 L401.5,781.7 L403.0,781.7 L404.5,781.6 L406.0,781.6 L407.5,781.5 L409.0,781.4 L410.5,781.4 L412.0,781.3 L413.5,781.3 L415.0,781.2 L416.5,781.2 L418.0,781.1 L419.5,781.1 L421.0,781.0 L422.5,781.0 L424.0,780.9 L425.4,780.9 L426.9,780.8 L428.4,780.7 L429.9,780.7 L431.4,780.6 L432.9,780.6 L434.4,780.5 L435.9,780.5 L437.4,780.4 L438.9,780.3 L440.4,780.3 L441.9,780.2 L443.4,780.2 L444.9,780.1 L446.4,780.0 L447.9,780.0 L449.4,779.9 L450.9,779.8 L452.4,779.8 L453.9,779.7 L455.4,779.6 L456.9,779.6 L458.4,779.5 L459.8,779.4 L461.3,779.4 L462.8,779.3 L464.3,779.2 L465.8,779.2 L467.3,779.1 L468.8,779.0 L470.3,778.9 L471.8,778.9 L473.3,778.8 L474.8,778.7 L476.3,778.6 L477.8,778.6 L479.3,778.5 L480.8,778.4 L482.3,778.3 L483.8,778.2 L485.2,778.1 L486.7,778.1 L488.2,778.0 L489.7,777.9 L491.2,777.8 L492.7,777.7 L494.2,777.6 L495.7,777.5 L497.2,777.4 L498.7,777.3 L500.2,777.2 L501.7,777.1 L503.2,777.1 L504.6,777.0 L506.1,776.9 L507.6,776.7 L509.1,776.6 L510.6,776.5 L512.1,776.4 L513.6,776.3 L515.1,776.2 L516.6,776.1 L518.1,776.0 L519.6,775.9 L521.1,775.8 L522.5,775.7 L524.0,775.5 L525.5,775.4 L527.0,775.3 L528.5,775.2 L530.0,775.1 L531.5,774.9 L533.0,774.8 L534.5,774.7 L535.9,774.5 L537.4,774.4 L538.9,774.3 L540.4,774.1 L541.9,774.0 L543.4,773.9 L544.9,773.7 L546.4,773.6 L547.9,773.4 L549.3,773.3 L550.8,773.2 L552.3,773.0 L553.8,772.9 L555.3,772.7 L556.8,772.5 L558.3,772.4 L559.7,772.2 L561.2,772.1 L562.7,771.9 L564.2,771.7 L565.7,771.6 L567.2,771.4 L568.7,771.2 L570.1,771.1 L571.6,770.9 L573.1,770.7 L574.6,770.5 L576.1,770.4 L577.6,770.2 L579.0,770.0 L580.5,769.8 L582.0,769.6 L583.5,769.4 L585.0,769.2 L586.5,769.0 L587.9,768.8 L589.4,768.6 L590.9,768.4 L592.4,768.2 L593.9,768.0 L595.3,767.8 L596.8,767.6 L598.3,767.4 L599.8,767.2 L601.3,766.9 L602.7,766.7 L604.2,766.5 L605.7,766.3 L607.2,766.0 L608.7,765.8 L610.1,765.6 L611.6,765.3 L613.1,765.1 L614.6,764.8 L616.1,764.6 L617.5,764.4 L619.0,764.1 L620.5,763.8 L622.0,763.6 L623.4,763.3 L624.9,763.1 L626.4,762.8 L627.9,762.5 L629.3,762.3 L630.8,762.0 L632.3,761.7 L633.8,761.5 L635.2,761.2 L636.7,760.9 L638.2,760.6 L639.7,760.3 L641.1,760.0 L642.6,759.7 L644.1,759.4 L645.5,759.1 L647.0,758.8 L648.5,758.5 L650.0,758.2 L651.4,757.9 L652.9,757.6 L654.4,757.3 L655.8,756.9 L657.3,756.6 L658.8,756.3 L660.3,756.0" class="c" stroke-width="2.3" stroke-dasharray="14 7"/>
<path d="M137.3,830.0 C225.7,826.9 579.1,814.7 667.5,811.6" class="c" stroke-width="2.4"/>
<path d="M137.3,830.7 L138.8,830.8 L140.3,830.9 L141.8,830.9 L143.2,831.0 L144.7,831.1 L146.2,831.1 L147.7,831.2 L149.2,831.2 L150.7,831.3 L152.2,831.3 L153.7,831.4 L155.2,831.4 L156.7,831.5 L158.1,831.5 L159.6,831.5 L161.1,831.5 L162.6,831.6 L164.1,831.6 L165.6,831.6 L167.1,831.6 L168.6,831.6 L170.1,831.6 L171.6,831.6 L173.0,831.6 L174.5,831.6 L176.0,831.6 L177.5,831.6 L179.0,831.6 L180.5,831.6 L182.0,831.5 L183.5,831.5 L185.0,831.5 L186.5,831.4 L187.9,831.4 L189.4,831.4 L190.9,831.3 L192.4,831.3 L193.9,831.3 L195.4,831.2 L196.9,831.2 L198.4,831.1 L199.9,831.1 L201.4,831.0 L202.8,830.9 L204.3,830.9 L205.8,830.8 L207.3,830.8 L208.8,830.7 L210.3,830.6 L211.8,830.6 L213.3,830.5 L214.8,830.4 L216.3,830.3 L217.7,830.3 L219.2,830.2 L220.7,830.1 L222.2,830.0 L223.7,829.9 L225.2,829.9 L226.7,829.8 L228.2,829.7 L229.7,829.6 L231.2,829.5 L232.6,829.4 L234.1,829.3 L235.6,829.2 L237.1,829.1 L238.6,829.0 L240.1,828.9 L241.6,828.8 L243.1,828.7 L244.6,828.6 L246.1,828.6 L247.6,828.5 L249.0,828.3 L250.5,828.2 L252.0,828.1 L253.5,828.0 L255.0,827.9 L256.5,827.8 L258.0,827.7 L259.5,827.6 L261.0,827.5 L262.5,827.4 L264.0,827.3 L265.4,827.2 L266.9,827.1 L268.4,827.0 L269.9,826.9 L271.4,826.8 L272.9,826.7 L274.4,826.6 L275.9,826.4 L277.4,826.3 L278.9,826.2 L280.4,826.1 L281.8,826.0 L283.3,825.9 L284.8,825.8 L286.3,825.7 L287.8,825.6 L289.3,825.4 L290.8,825.3 L292.3,825.2 L293.8,825.1 L295.3,825.0 L296.8,824.9 L298.2,824.8 L299.7,824.7 L301.2,824.5 L302.7,824.4 L304.2,824.3 L305.7,824.2 L307.2,824.1 L308.7,824.0 L310.2,823.9 L311.7,823.7 L313.2,823.6 L314.7,823.5 L316.1,823.4 L317.6,823.3 L319.1,823.2 L320.6,823.1 L322.1,823.0 L323.6,822.8 L325.1,822.7 L326.6,822.6 L328.1,822.5 L329.6,822.4 L331.1,822.3 L332.6,822.2 L334.1,822.1 L335.5,822.0 L337.0,821.9 L338.5,821.7 L340.0,821.6 L341.5,821.5 L343.0,821.4 L344.5,821.3 L346.0,821.2 L347.5,821.1 L349.0,821.0 L350.5,820.9 L352.0,820.8 L353.4,820.7 L354.9,820.6 L356.4,820.5 L357.9,820.4 L359.4,820.3 L360.9,820.2 L362.4,820.1 L363.9,820.0 L365.4,819.9 L366.9,819.8 L368.4,819.7 L369.9,819.6 L371.4,819.5 L372.9,819.4 L374.3,819.3 L375.8,819.2 L377.3,819.1 L378.8,819.0 L380.3,818.9 L381.8,818.8 L383.3,818.7 L384.8,818.6 L386.3,818.6 L387.8,818.5 L389.3,818.4 L390.8,818.3 L392.3,818.2 L393.8,818.1 L395.2,818.0 L396.7,818.0 L398.2,817.9 L399.7,817.8 L401.2,817.7 L402.7,817.6 L404.2,817.6 L405.7,817.5 L407.2,817.4 L408.7,817.3 L410.2,817.3 L411.7,817.2 L413.2,817.1 L414.7,817.0 L416.2,817.0 L417.6,816.9 L419.1,816.8 L420.6,816.7 L422.1,816.7 L423.6,816.6 L425.1,816.5 L426.6,816.5 L428.1,816.4 L429.6,816.3 L431.1,816.3 L432.6,816.2 L434.1,816.1 L435.6,816.1 L437.1,816.0 L438.6,816.0 L440.1,815.9 L441.5,815.8 L443.0,815.8 L444.5,815.7 L446.0,815.7 L447.5,815.6 L449.0,815.6 L450.5,815.5 L452.0,815.4 L453.5,815.4 L455.0,815.3 L456.5,815.3 L458.0,815.2 L459.5,815.2 L461.0,815.1 L462.5,815.1 L464.0,815.0 L465.5,815.0 L466.9,814.9 L468.4,814.9 L469.9,814.8 L471.4,814.8 L472.9,814.7 L474.4,814.7 L475.9,814.6 L477.4,814.6 L478.9,814.6 L480.4,814.5 L481.9,814.5 L483.4,814.4 L484.9,814.4 L486.4,814.4 L487.9,814.3 L489.4,814.3 L490.9,814.2 L492.4,814.2 L493.9,814.2 L495.3,814.1 L496.8,814.1 L498.3,814.1 L499.8,814.0 L501.3,814.0 L502.8,813.9 L504.3,813.9 L505.8,813.9 L507.3,813.8 L508.8,813.8 L510.3,813.8 L511.8,813.8 L513.3,813.7 L514.8,813.7 L516.3,813.7 L517.8,813.6 L519.3,813.6 L520.8,813.6 L522.3,813.6 L523.7,813.5 L525.2,813.5 L526.7,813.5 L528.2,813.5 L529.7,813.4 L531.2,813.4 L532.7,813.4 L534.2,813.4 L535.7,813.3 L537.2,813.3 L538.7,813.3 L540.2,813.3 L541.7,813.3 L543.2,813.2 L544.7,813.2 L546.2,813.2 L547.7,813.2 L549.2,813.2 L550.7,813.1 L552.2,813.1 L553.6,813.1 L555.1,813.1 L556.6,813.1 L558.1,813.1 L559.6,813.0 L561.1,813.0 L562.6,813.0 L564.1,813.0 L565.6,813.0 L567.1,813.0 L568.6,813.0 L570.1,813.0 L571.6,812.9 L573.1,812.9 L574.6,812.9 L576.1,812.9 L577.6,812.9 L579.1,812.9 L580.6,812.9 L582.1,812.9 L583.6,812.9 L585.0,812.9 L586.5,812.9 L588.0,812.8 L589.5,812.8 L591.0,812.8 L592.5,812.8 L594.0,812.8 L595.5,812.8 L597.0,812.8 L598.5,812.8 L600.0,812.8" class="c" stroke-width="2.3" stroke-dasharray="14 7"/>
<path d="M181.8,841.7 C261.6,840.8 580.9,837.0 660.7,836.0" class="c" stroke-width="2.4"/>
<text x="242.9" y="538.6" font-size="22.6">C<tspan dx="0.55">O</tspan><tspan dx="1.35" dy="-0.8">:</tspan><tspan dx="1.55" dy="0.8">H</tspan><tspan font-size="17" dy="5.0" dx="1.5">2</tspan><tspan dy="-5.0" dx="0.6">=</tspan><tspan dx="0.55">1</tspan><tspan dx="0.55">.</tspan><tspan dx="0.55">0</tspan></text>
<text x="405.1" y="663.4" font-size="22.6">C<tspan dx="0.55">O</tspan><tspan dx="1.35" dy="-0.8">:</tspan><tspan dx="1.55" dy="0.8">H</tspan><tspan font-size="17" dy="5.0" dx="1.5">2</tspan><tspan dy="-5.0" dx="0.6">=</tspan><tspan dx="0.55">3</tspan><tspan dx="1.35">:</tspan><tspan dx="0.55">1</tspan></text>
<text x="518.3" y="746.3" font-size="22.6">C<tspan dx="0.55">O</tspan><tspan dx="1.35" dy="-0.8">:</tspan><tspan dx="1.55" dy="0.8">H</tspan><tspan font-size="17" dy="5.0" dx="1.5">2</tspan><tspan dy="-5.0" dx="0.6">=</tspan><tspan dx="0.55">1</tspan><tspan dx="1.35">:</tspan><tspan dx="0.55">1</tspan></text>
<text x="539.9" y="800.2" font-size="22.6">C<tspan dx="0.55">O</tspan><tspan dx="1.35" dy="-0.8">:</tspan><tspan dx="1.55" dy="0.8">H</tspan><tspan font-size="17" dy="5.0" dx="1.5">2</tspan><tspan dy="-5.0" dx="0.6">=</tspan><tspan dx="0.55">1</tspan><tspan dx="1.35">:</tspan><tspan dx="0.55">3</tspan></text>
<text x="536.9" y="865.2" font-size="22.6">C<tspan dx="0.55">O</tspan><tspan dx="1.35" dy="-0.8">:</tspan><tspan dx="1.55" dy="0.8">H</tspan><tspan font-size="17" dy="5.0" dx="1.5">2</tspan><tspan dy="-5.0" dx="0.6">=</tspan><tspan dx="0.55">0</tspan><tspan dx="1.35">:</tspan><tspan dx="0.55">1</tspan></text>
</svg>
</body></html>
